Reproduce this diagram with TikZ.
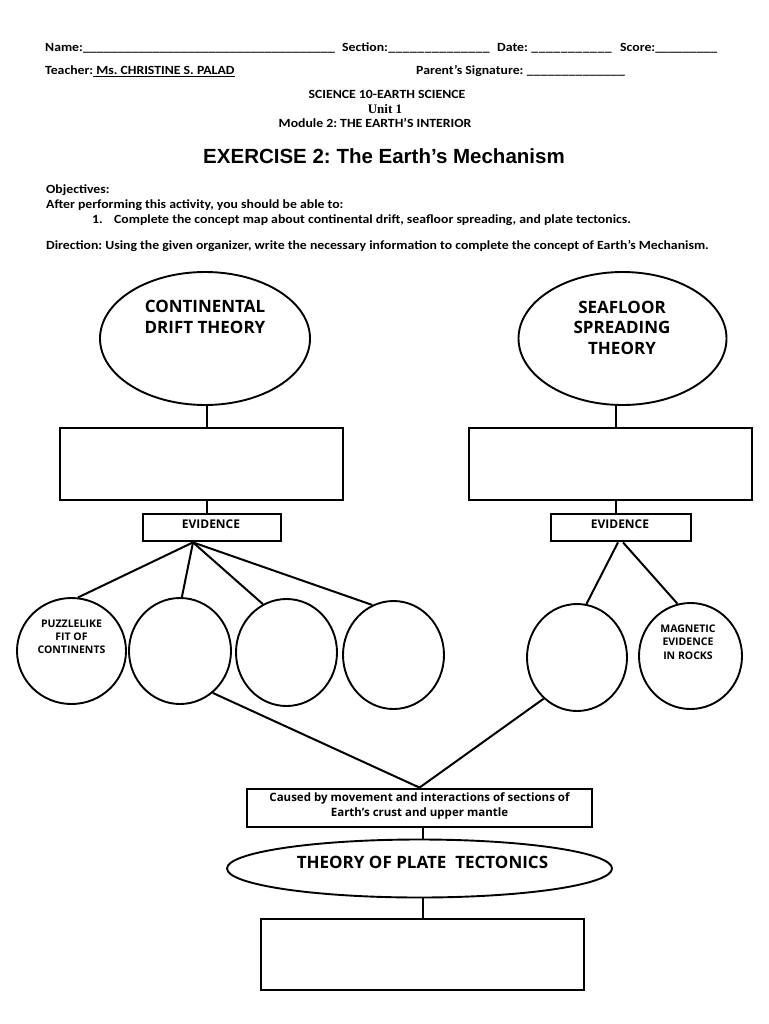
\documentclass[tikz,border=0pt]{standalone}
\usepackage{fontspec}
\setmainfont{Carlito}
\newfontfamily\hdfont[FakeStretch=1.1]{Carlito}
\newfontfamily\osfont{Open Sans}
\newfontfamily\ttlfont{Liberation Sans}
\newfontfamily\srffont{Liberation Serif}
\usetikzlibrary{shapes.geometric,calc}
\newcommand\blankfill{\xleaders\hbox{\_}\hfill}
\frenchspacing
\begin{document}
\frenchspacing
\begin{tikzpicture}[x=1pt,y=-1pt,
  hdr/.style={anchor=base west,inner sep=0pt,font=\hdfont\bfseries\fontsize{12.5}{15}\selectfont\frenchspacing},
  big/.style={draw,line width=1.9pt,ellipse,inner sep=0pt},
  circ/.style={draw,line width=1.9pt,ellipse,inner sep=0pt},
  box/.style={draw,line width=2.8pt,rectangle,inner sep=0pt},
  lnk/.style={line width=2pt},
  bigtxt/.style={inner sep=0pt,align=center,font=\osfont\bfseries\fontsize{17}{20.5}\selectfont},
  smtxt/.style={inner sep=0pt,align=center,font=\osfont\bfseries\fontsize{10.5}{12.8}\selectfont},
  evtxt/.style={inner sep=0pt,align=center,font=\osfont\bfseries\fontsize{12}{14}\selectfont},
  midtxt/.style={inner sep=0pt,align=center,font=\osfont\bfseries\fontsize{11.5}{15}\selectfont}]
\fill[white] (0,0) rectangle (768,1024);
\useasboundingbox (0,0) rectangle (768,1024);
% header
\node[hdr] (name) at (45,52) {\makebox[290pt][l]{Name:\blankfill}};
\node[hdr] (sect) at (342,52) {\makebox[148pt][l]{Section:\blankfill}};
\node[hdr] (date) at (497,52) {\makebox[115pt][l]{Date: \blankfill}};
\node[hdr] (score) at (620,52) {\makebox[97pt][l]{Score:\blankfill}};
\node[hdr] (teacher) at (45,75) {Teacher:\underline{\ Ms. CHRISTINE S. PALAD}};
\node[hdr] (parent) at (416,75) {\makebox[209pt][l]{Parent’s Signature: \blankfill}};
\node[hdr,anchor=base] (sci) at (387,99) {SCIENCE 10-EARTH SCIENCE};
\node[anchor=base,inner sep=0pt,font=\srffont\bfseries\fontsize{13}{15}\selectfont] (unit) at (385,114) {Unit 1};
\node[hdr,anchor=base] (mod) at (375,128) {Module 2: THE EARTH’S INTERIOR};
\node[anchor=base,inner sep=0pt,font=\ttlfont\bfseries\fontsize{20.5}{24}\selectfont\frenchspacing] (title) at (384,164) {EXERCISE 2: The Earth’s Mechanism};
\node[hdr] (obj) at (46,194) {Objectives:};
\node[hdr] (after) at (46,209) {After performing this activity, you should be able to:};
\node[hdr] (n1) at (92,224) {1.};
\node[hdr] (item) at (114,224) {Complete the concept map about continental drift, seafloor spreading, and plate tectonics.};
\node[hdr] (dir) at (46,249) {Direction: Using the given organizer, write the necessary information to complete the concept of Earth’s Mechanism.};
% top ellipses
\node[big,minimum width=210pt,minimum height=133pt] (e1) at (205,338.5) {};
\node[bigtxt] (e1t) at (205,317) {CONTINENTAL\\DRIFT THEORY};
\node[big,minimum width=208pt,minimum height=133pt] (e2) at (622.5,338.5) {};
\node[bigtxt] (e2t) at (622,327.5) {SEAFLOOR\\SPREADING\\THEORY};
% rectangles
\node[box,minimum width=283pt,minimum height=72pt] (r1) at (201.5,464) {};
\node[box,minimum width=283pt,minimum height=72pt] (r2) at (610.5,464) {};
% evidence boxes
\node[box,minimum width=138pt,minimum height=27pt] (ev1) at (212,527.5) {};
\node[evtxt] (ev1t) at (211,524) {EVIDENCE};
\node[box,minimum width=140pt,minimum height=27pt] (ev2) at (621,527.5) {};
\node[evtxt] (ev2t) at (620,524) {EVIDENCE};
\coordinate (v1) at (207,0);
\coordinate (v2) at (616,0);
\draw[lnk] (e1.south -| v1) -- (r1.north -| v1);
\draw[lnk] (r1.south -| v1) -- (ev1.north -| v1);
\draw[lnk] (e2.south -| v2) -- (r2.north -| v2);
\draw[lnk] (r2.south -| v2) -- (ev2.north -| v2);
% circles
\node[circ,minimum width=109pt,minimum height=106pt] (c1) at (71.5,651) {};
\node[smtxt] (c1t) at (71.5,637) {PUZZLELIKE\\FIT OF\\CONTINENTS};
\node[circ,minimum width=102pt,minimum height=106pt] (c2) at (180,651) {};
\node[circ,minimum width=101pt,minimum height=107pt] (c3) at (286.5,652.5) {};
\node[circ,minimum width=101pt,minimum height=108pt] (c4) at (393.5,655) {};
\node[circ,minimum width=100pt,minimum height=107pt] (c5) at (577,657.5) {};
\node[circ,minimum width=103pt,minimum height=106pt] (c6) at (690.5,656) {};
\node[smtxt,font=\osfont\bfseries\fontsize{10.5}{13.5}\selectfont] (c6t) at (688,642) {MAGNETIC\\EVIDENCE\\IN ROCKS};
\coordinate (f1) at ($(ev1.south)+(-19,0)$);
\coordinate (f2) at ($(ev2.south)+(-3,0)$);
\coordinate (f3) at ($(ev2.south)+(2,0)$);
\draw[lnk] (f1) -- (c1.83);
\draw[lnk] (f1) -- (c2.88);
\draw[lnk] (f1) -- (c3.116);
\draw[lnk] (f1) -- (c4.113);
\draw[lnk] (f2) -- (c5.80);
\draw[lnk] (f3) -- (c6.104);
% bottom
\node[box,minimum width=345pt,minimum height=38pt] (cb) at (419.5,808) {};
\node[midtxt] (cbt) at (419.5,806) {Caused by movement and interactions of sections of\\Earth’s crust and upper mantle};
\draw[lnk] (c2.308) -- (cb.north);
\draw[lnk] (c5.231) -- (cb.north);
\node[big,minimum width=385pt,minimum height=58pt] (pt) at (419.5,868.5) {};
\node[bigtxt] (ptt) at (422.5,862) {THEORY OF PLATE\ \ TECTONICS};
\node[box,minimum width=323pt,minimum height=71pt] (br) at (422.5,954.5) {};
\draw[lnk] (cb.south -| br.north) -- (pt.north -| br.north);
\draw[lnk] (pt.south -| br.north) -- (br.north);
\end{tikzpicture}
\end{document}
